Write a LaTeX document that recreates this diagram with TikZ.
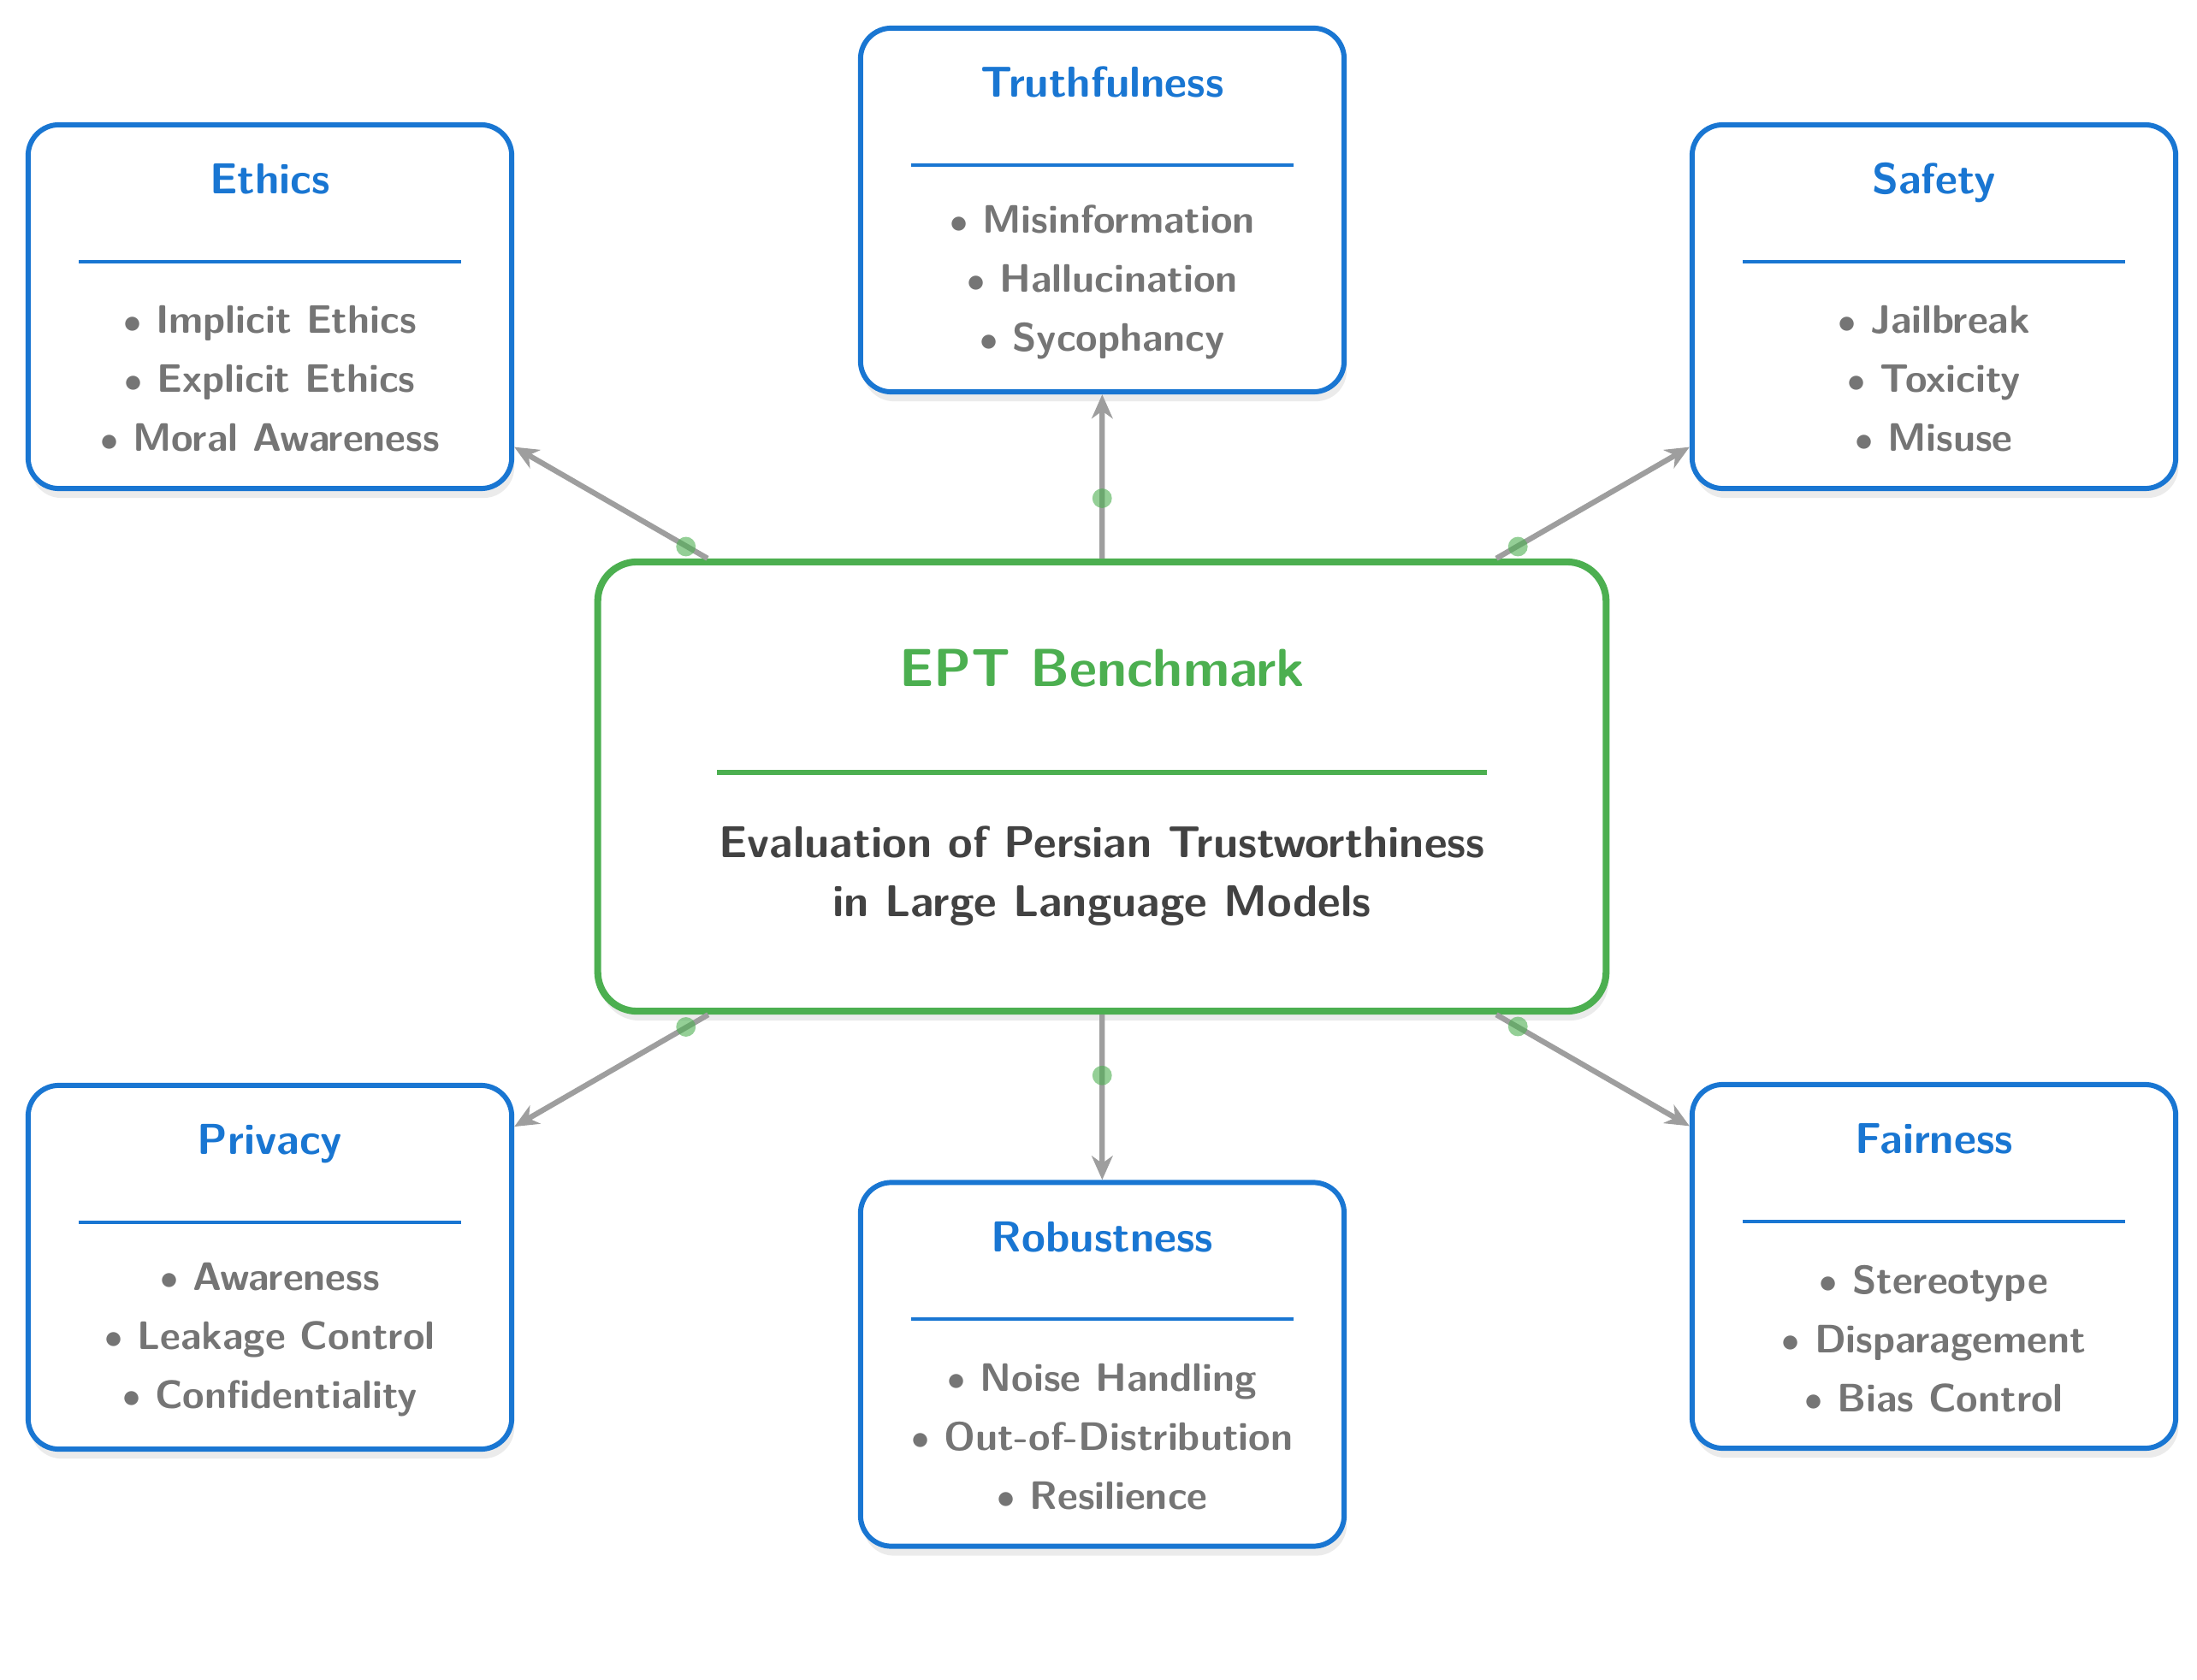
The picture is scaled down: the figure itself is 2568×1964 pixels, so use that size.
\documentclass[tikz,border=0pt]{standalone}
\usepackage{fontspec}
\usetikzlibrary{shadows,calc,arrows.meta}
\definecolor{cblue}{HTML}{1976D2}
\definecolor{cgreen}{HTML}{4CAF50}
\definecolor{cgray}{HTML}{757575}
\definecolor{cdark}{HTML}{424242}
\definecolor{cline}{HTML}{9E9E9E}
\newcommand\bul{\raisebox{0.1pt}{$\bullet$}\ }
\newcommand\catbox[5]{%
  \node[catbox] (#1) at (#2,#3) {};
  \node[cattitle] (#1-t) at ($(#1.north)+(0,84)$) {#4};
  \draw[catrule] ($(#1.north)+(-223.5,163)$) -- ($(#1.north)+(223.5,163)$);
  \node[catitems] (#1-i) at ($(#1.north)+(0,300)$) {#5};
}
\begin{document}
\begin{tikzpicture}[x=0.01cm,y=-0.01cm,
  catbox/.style={draw=cblue, line width=1.7pt, rounded corners=0.36cm, fill=white,
    minimum width=5.65cm, minimum height=4.25cm, inner sep=0pt,
    drop shadow={shadow xshift=0.03cm, shadow yshift=-0.11cm, opacity=0.08, fill=black}},
  cattitle/.style={font=\sffamily\bfseries\fontsize{14.4}{17}\selectfont, text=cblue, inner sep=0pt, anchor=base},
  catrule/.style={cblue, line width=1.1pt},
  catitems/.style={font=\sffamily\bfseries\fontsize{13.2}{19.6}\selectfont, text=cgray, align=center, inner sep=0pt},
  mainbox/.style={draw=cgreen, line width=2.3pt, rounded corners=0.46cm, fill=white,
    minimum width=11.78cm, minimum height=5.25cm, inner sep=0pt,
    drop shadow={shadow xshift=0.03cm, shadow yshift=-0.11cm, opacity=0.08, fill=black}},
  conn/.style={cline, line width=1.8pt, -{Stealth[length=8pt, width=7pt, inset=2.5pt]}},
  dot/.style={circle, fill=cgreen, fill opacity=0.6, inner sep=0pt, minimum size=6.5pt}
]
\useasboundingbox (0,0) rectangle (2568,1964);

\node[mainbox] (cent) at (1288,919.5) {};

\catbox{ethics}{315.5}{358.5}{Ethics}{\bul Implicit Ethics\\ \bul Explicit Ethics\\ \bul Moral Awareness}
\catbox{truth}{1288.5}{245.5}{Truthfulness}{\bul Misinformation\\ \bul Hallucination\\ \bul Sycophancy}
\catbox{safety}{2260.5}{358.5}{Safety}{\bul Jailbreak\\ \bul Toxicity\\ \bul Misuse}
\catbox{privacy}{315.5}{1481.5}{Privacy}{\bul Awareness\\ \bul Leakage Control\\ \bul Confidentiality}
\catbox{robust}{1288.5}{1595}{Robustness}{\bul Noise Handling\\ \bul Out-of-Distribution\\ \bul Resilience}
\catbox{fair}{2260.5}{1480.5}{Fairness}{\bul Stereotype\\ \bul Disparagement\\ \bul Bias Control}

\node[font=\sffamily\bfseries\fontsize{17.8}{21}\selectfont, text=cgreen, inner sep=0pt] (cent-t) at ($(cent.north)+(0,128)$) {EPT Benchmark};
\draw[cgreen, line width=1.7pt] ($(cent.north)+(-450,250)$) -- ($(cent.north)+(450,250)$);
\node[font=\sffamily\bfseries\fontsize{14.8}{19.6}\selectfont, text=cdark, align=center, inner sep=0pt] (cent-s) at ($(cent.north)+(0,371)$) {Evaluation of Persian Trustworthiness\\ in Large Language Models};

\foreach \b in {ethics,truth,safety,privacy,robust,fair}{
  \draw[conn] (cent) -- (\b);
  \node[dot] (dot-\b) at ($(cent)!0.5!(\b)$) {};
}
\end{tikzpicture}
\end{document}
